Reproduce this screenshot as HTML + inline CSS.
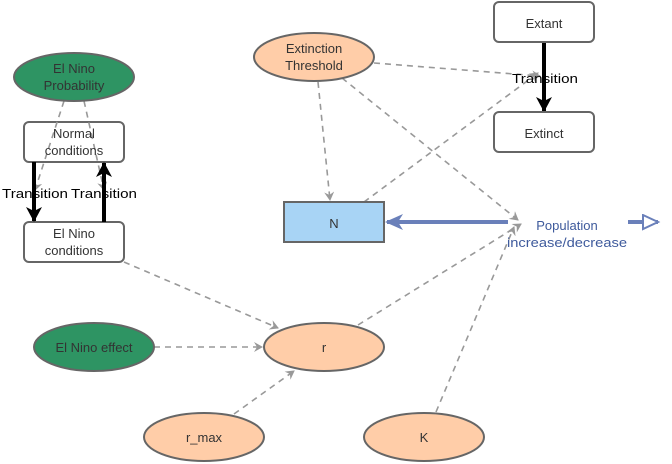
<!DOCTYPE html>
<html><head><meta charset="utf-8"><style>
html,body{margin:0;padding:0;background:#fff;}
svg{display:block;}
text{font-family:"Liberation Sans",sans-serif;font-size:13px;fill:#333;text-anchor:middle;}
</style></head><body>
<svg width="672" height="464" viewBox="0 0 672 464" xmlns="http://www.w3.org/2000/svg">
<defs>
<marker id="ga" markerWidth="10" markerHeight="10" refX="8" refY="5" orient="auto" markerUnits="userSpaceOnUse">
<path d="M0,0 L9,5 L0,10 L3,5 z" fill="#999"/></marker>
<marker id="ka" markerWidth="16" markerHeight="16" refX="14" refY="8" orient="auto" markerUnits="userSpaceOnUse">
<path d="M0,0 L15,8 L0,16 L4,8 z" fill="#000"/></marker>
<marker id="ba" markerWidth="20" markerHeight="20" refX="16" refY="10" orient="auto" markerUnits="userSpaceOnUse">
<path d="M0,2 L18,10 L0,18 L5,10 z" fill="#6a80ba"/></marker>
<marker id="bo" markerWidth="20" markerHeight="20" refX="16" refY="8" orient="auto" markerUnits="userSpaceOnUse">
<path d="M1,1 L16,8 L1,15 z" fill="#fff" stroke="#6a80ba" stroke-width="2"/></marker>
</defs>
<g stroke="#666" stroke-width="2">
<rect x="24" y="122" width="100" height="40" rx="5" fill="#fff" fill-opacity="0.6"/>
<rect x="24" y="222" width="100" height="40" rx="5" fill="#fff"/>
</g>
<g stroke="#999" stroke-width="1.6" stroke-dasharray="6,5" fill="none">
<line x1="64" y1="101" x2="35" y2="190" marker-end="url(#ga)"/>
<line x1="84" y1="101" x2="104" y2="190" marker-end="url(#ga)"/>
<line x1="124" y1="262" x2="278" y2="328" marker-end="url(#ga)"/>
<line x1="154" y1="347" x2="262" y2="347" marker-end="url(#ga)"/>
<line x1="234" y1="414" x2="294" y2="371" marker-end="url(#ga)"/>
<line x1="358" y1="325" x2="521" y2="224" marker-end="url(#ga)"/>
<line x1="436" y1="412" x2="514" y2="227" marker-end="url(#ga)"/>
<line x1="318" y1="82" x2="330" y2="200" marker-end="url(#ga)"/>
<line x1="342" y1="78" x2="518" y2="220" marker-end="url(#ga)"/>
<line x1="374" y1="63" x2="540" y2="76" marker-end="url(#ga)"/>
<line x1="364" y1="202" x2="538" y2="73" marker-end="url(#ga)"/>
</g>
<g stroke="#000" stroke-width="4">
<line x1="34" y1="162" x2="34" y2="221" marker-end="url(#ka)"/>
<line x1="104" y1="222" x2="104" y2="163" marker-end="url(#ka)"/>
<line x1="544" y1="42" x2="544" y2="111" marker-end="url(#ka)"/>
</g>
<g stroke="#6a80ba" stroke-width="4">
<line x1="508" y1="222" x2="387" y2="222" marker-end="url(#ba)"/>
<line x1="628" y1="222" x2="658" y2="222" marker-end="url(#bo)"/>
</g>
<g stroke="#666" stroke-width="2">
<ellipse cx="74" cy="77" rx="60" ry="24" fill="#2e9463"/>
<ellipse cx="314" cy="57" rx="60" ry="24" fill="#ffcda8"/>
<rect x="494" y="2" width="100" height="40" rx="5" fill="#fff"/>
<rect x="494" y="112" width="100" height="40" rx="5" fill="#fff"/>
<rect x="284" y="202" width="100" height="40" fill="#a8d4f5"/>
<ellipse cx="94" cy="347" rx="60" ry="24" fill="#2e9463"/>
<ellipse cx="324" cy="347" rx="60" ry="24" fill="#ffcda8"/>
<ellipse cx="204" cy="437" rx="60" ry="24" fill="#ffcda8"/>
<ellipse cx="424" cy="437" rx="60" ry="24" fill="#ffcda8"/>
</g>
<text x="74" y="73">El Nino</text><text x="74" y="90">Probability</text>
<text x="74" y="138">Normal</text><text x="74" y="155">conditions</text>
<text x="74" y="238">El Nino</text><text x="74" y="255">conditions</text>
<text x="35" y="198" style="fill:#000" textLength="66" lengthAdjust="spacingAndGlyphs">Transition</text>
<text x="104" y="198" style="fill:#000" textLength="66" lengthAdjust="spacingAndGlyphs">Transition</text>
<text x="314" y="53">Extinction</text><text x="314" y="70">Threshold</text>
<text x="544" y="28">Extant</text>
<text x="544" y="138">Extinct</text>
<text x="545" y="83" style="fill:#000" textLength="66" lengthAdjust="spacingAndGlyphs">Transition</text>
<text x="334" y="228">N</text>
<text x="567" y="230" style="fill:#3e5a9c">Population</text>
<text x="567" y="247" style="fill:#3e5a9c" textLength="120" lengthAdjust="spacingAndGlyphs">increase/decrease</text>
<text x="94" y="352">El Nino effect</text>
<text x="324" y="352">r</text>
<text x="204" y="442">r_max</text>
<text x="424" y="442">K</text>
</svg>
</body></html>
